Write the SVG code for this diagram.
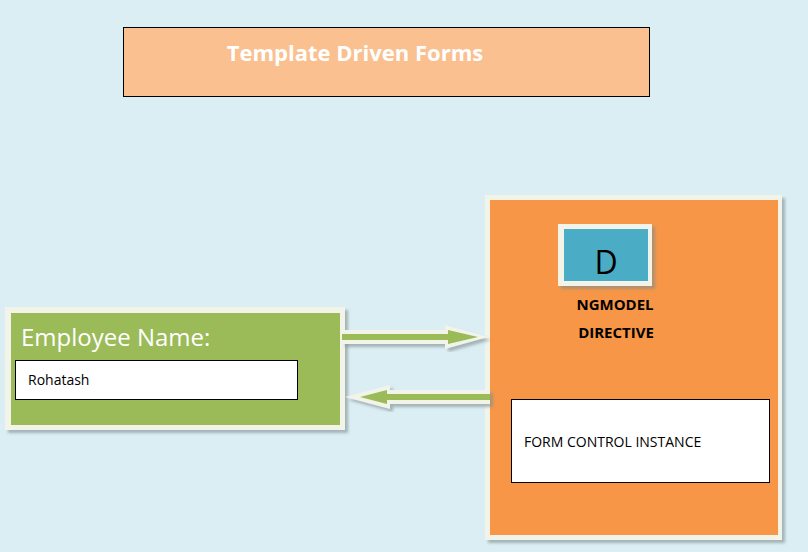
<svg xmlns="http://www.w3.org/2000/svg" width="808" height="552" viewBox="0 0 808 552">
<style>
.t{font-family:"Open Sans","Liberation Sans",sans-serif}
.b{font-weight:bold}
</style>
<defs>
<filter id="sh" x="-10%" y="-10%" width="120%" height="120%"><feDropShadow dx="3" dy="3" stdDeviation="1.5" flood-color="#7f8c8d" flood-opacity="0.6"/></filter>
</defs>
<rect width="808" height="552" fill="#DBEEF4"/>
<g id="title">
<rect x="123.5" y="27.5" width="526" height="69" fill="#FAC090" stroke="#000"/>
<text x="355" y="61" class="t b" font-size="22" fill="#fff" text-anchor="middle">Template Driven Forms</text>
</g>
<g id="employee">
<rect x="5" y="307" width="340" height="123" fill="#F2F4EA" filter="url(#sh)"/>
<rect x="11" y="313" width="329" height="112" fill="#9BBB59"/>
<text x="21" y="346" class="t" font-size="24" fill="#fff">Employee Name:</text>
<rect x="15.5" y="360.5" width="282" height="39" fill="#fff" stroke="#000"/>
<text x="28" y="385" class="t" font-size="14" fill="#000">Rohatash</text>
</g>
<g id="directive">
<rect x="485" y="195" width="297" height="345" fill="#F2F4EA" filter="url(#sh)"/>
<rect x="490" y="200" width="288" height="335" fill="#F79646"/>
<g id="d">
<rect x="558" y="224" width="94" height="62" fill="#F2F4EA" filter="url(#sh)"/>
<rect x="564" y="229" width="84" height="52" fill="#4BACC6"/>
<text x="606" y="274" class="t" font-size="32" fill="#000" text-anchor="middle">D</text>
</g>
<text x="615" y="310" class="t b" font-size="15" fill="#000" text-anchor="middle">NGMODEL</text>
<text x="616" y="338" class="t b" font-size="15" fill="#000" text-anchor="middle">DIRECTIVE</text>
<g id="fci">
<rect x="511.5" y="399.5" width="258" height="83" fill="#fff" stroke="#000"/>
<text x="524" y="447" class="t" font-size="14" fill="#000">FORM CONTROL INSTANCE</text>
</g>
</g>
<g id="connectors">
<g filter="url(#sh)">
<polygon points="342,330 445,330 445,325 488,337 445,349 445,344 342,344" fill="#F2F4EA"/>
</g>
<polygon points="342,334 448,334 448,330 478,337 448,344 448,340 342,340" fill="#9BBB59"/>
<g filter="url(#sh)">
<polygon points="490,390 390,390 390,385 345,397 390,409 390,404 490,404" fill="#F2F4EA"/>
</g>
<polygon points="490,394 387,394 387,390 360,397 387,404 387,400 490,400" fill="#9BBB59"/>
</g>
</svg>
